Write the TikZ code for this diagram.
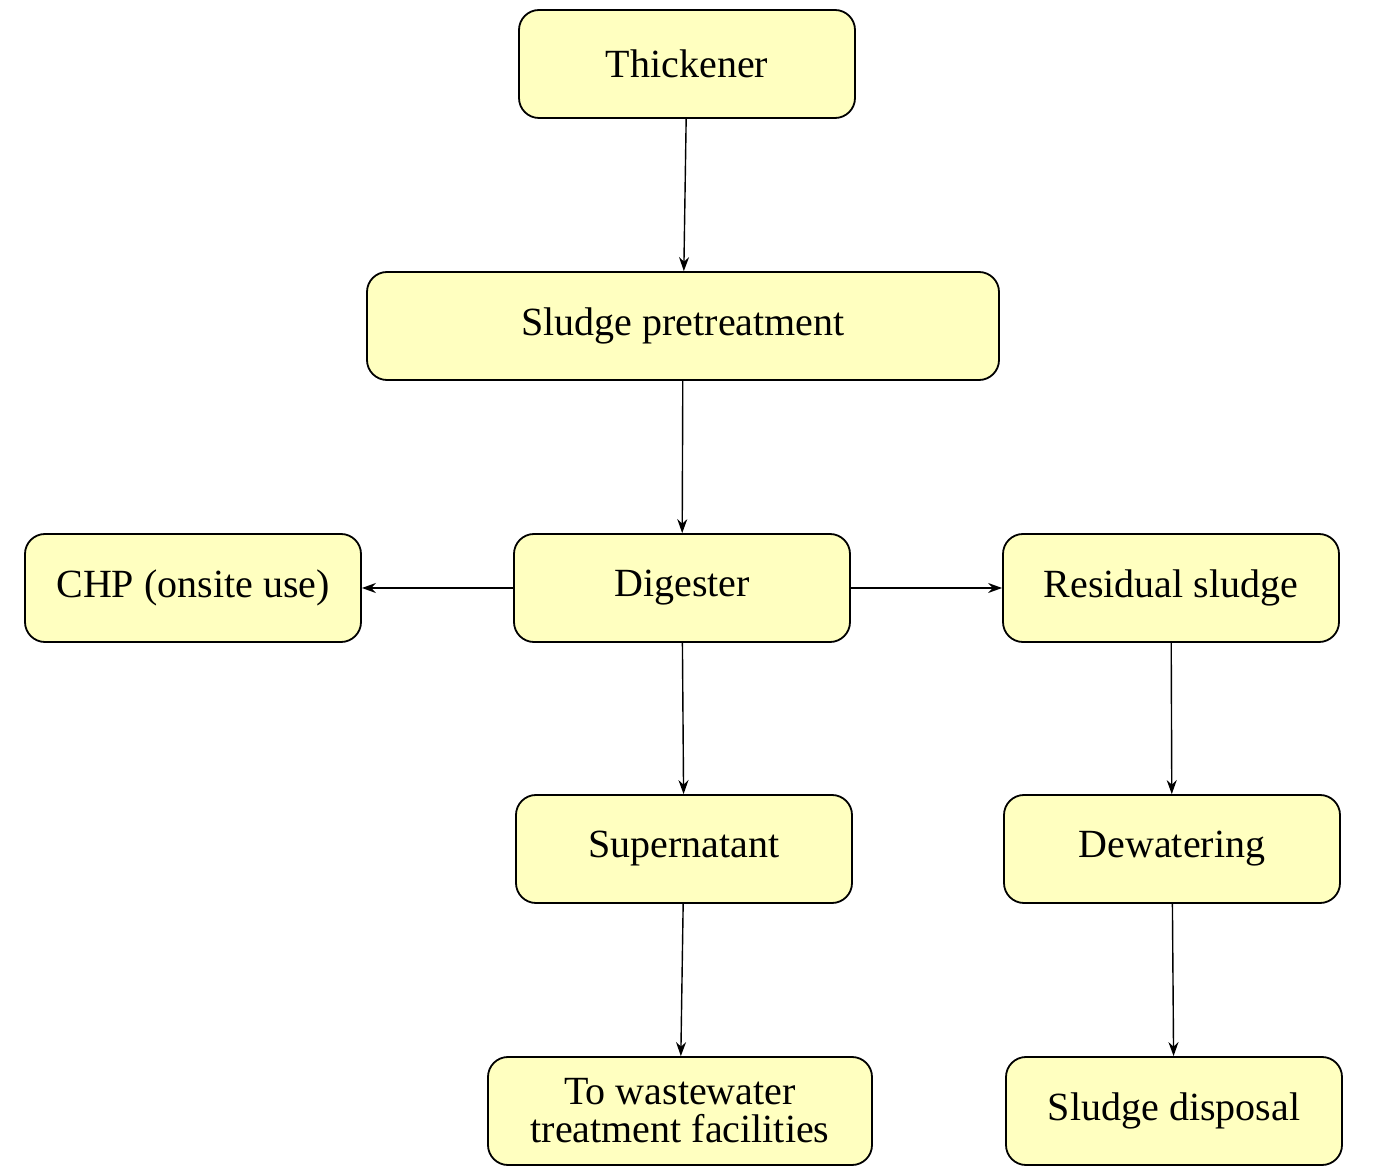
\documentclass[tikz,border=0pt]{standalone}
\usepackage{fontspec}
\setmainfont{Liberation Serif}
\usetikzlibrary{arrows.meta}
\usetikzlibrary{positioning}
\definecolor{boxfill}{RGB}{255,255,192}

\tikzset{
  box/.style={rectangle, rounded corners=10pt,
    fill=boxfill, draw=black, line width=0.9pt,
    minimum height=54pt, align=center,
    font=\fontsize{20}{19}\selectfont},
  flow/.style={-{Stealth[length=7pt,width=5pt]}, line width=0.7pt}
}

\begin{document}
\begin{tikzpicture}[x=0.5pt, y=-0.5pt]
            \useasboundingbox (0,0) rectangle (1373,1166);

            % main column
            \node (thick) [box, minimum width=168pt] at (687,64) {Thickener};
            \node (pre) [box, minimum width=316pt] at (683,326) {Sludge pretreatment};
            \node (dig) [box, minimum width=168pt] at (682,588) {Digester};

            % side branches
            \node (chp) [box, minimum width=168pt] at (193,588) {CHP (onsite use)};
            \node (res) [box, minimum width=168pt] at (1171,588) {Residual sludge};

            % lower rows
            \node (sup) [box, minimum width=168pt] at (684,849) {Supernatant};
            \node (dew) [box, minimum width=168pt] at (1172,849) {Dewatering};
            \node (waste) [box, minimum width=192pt] at (680,1111)
              {To wastewater\\treatment facilities};
            \node (disp) [box, minimum width=168pt] at (1174,1111) {Sludge disposal};

            % edges
            \path [flow]
              (thick) edge (pre)
              (pre) edge (dig)
              (dig) edge (chp)
                    edge (res)
                    edge (sup)
              (res) edge (dew)
              (sup) edge (waste)
              (dew) edge (disp)
              ;
\end{tikzpicture}
\end{document}
